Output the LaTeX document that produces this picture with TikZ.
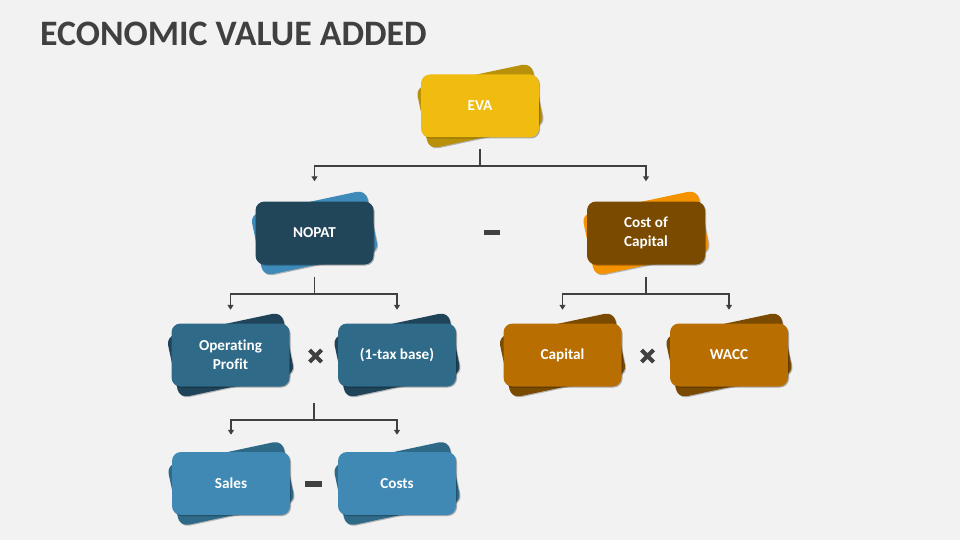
\documentclass[tikz,border=0pt]{standalone}
\usepackage{fontspec}
\setmainfont{Carlito}[Ligatures=NoCommon]
\usetikzlibrary{arrows.meta,shadows,calc}
\definecolor{bg}{HTML}{F2F2F2}
\definecolor{ink}{HTML}{404040}
\definecolor{evaF}{HTML}{F0BC10}
\definecolor{evaB}{HTML}{B8900A}
\definecolor{nopF}{HTML}{214559}
\definecolor{nopB}{HTML}{3E8AB8}
\definecolor{cocF}{HTML}{7A4A00}
\definecolor{cocB}{HTML}{F59200}
\definecolor{opF}{HTML}{2F6A88}
\definecolor{opB}{HTML}{1F4459}
\definecolor{capF}{HTML}{B86E00}
\definecolor{capB}{HTML}{7A4A00}
\definecolor{salF}{HTML}{3F89B4}
\definecolor{salB}{HTML}{2E6A88}
\tikzset{
  cardfront/.style={rectangle, rounded corners=9pt, minimum width=118pt, minimum height=63pt,
    inner sep=0pt, text=white, align=center,
    font=\bfseries\fontsize{15.2}{19}\selectfont,
    drop shadow={shadow xshift=1pt, shadow yshift=-1pt, opacity=0.3, fill=black}},
  cardback/.style={rectangle, rounded corners=9pt, minimum width=118pt, minimum height=63pt,
    inner sep=0pt, rotate=12,
    drop shadow={shadow xshift=1pt, shadow yshift=-1pt, opacity=0.25, fill=black}},
  conn/.style={draw=ink, line width=1.9pt},
  arr/.style={conn, -{Triangle[width=6pt,length=5pt]}},
  minusbar/.style={rectangle, fill=ink, minimum width=16pt, minimum height=5.5pt, inner sep=0pt},
  xmark/.style={draw=ink, line width=4.2pt},
}
\begin{document}
\begin{tikzpicture}[x=1pt,y=-1pt]
\fill[bg] (0,0) rectangle (960,540);
\useasboundingbox (0,0) rectangle (960,540);

\node[anchor=base west, text=ink, font=\bfseries\fontsize{35.8}{40}\selectfont, inner sep=0pt] (title) at (40,45.5) {ECONOMIC VALUE ADDED};

% cards
\node[cardback, fill=evaB] (evab) at (480,106) {};
\node[cardfront, fill=evaF] (eva) at (480,106) {EVA};

\node[cardback, fill=nopB] (nopatb) at (314.5,233) {};
\node[cardfront, fill=nopF] (nopat) at (314.5,233) {NOPAT};

\node[cardback, fill=cocB] (cocb) at (646,233) {};
\node[cardfront, fill=cocF] (coc) at (646,233) {Cost of\\Capital};

\node[cardback, fill=opB] (opb) at (230.5,355) {};
\node[cardfront, fill=opF] (op) at (230.5,355) {Operating\\Profit};

\node[cardback, fill=opB] (taxb) at (397,355) {};
\node[cardfront, fill=opF] (tax) at (397,355) {(1-tax base)};

\node[cardback, fill=capB] (capb) at (562.5,355) {};
\node[cardfront, fill=capF] (cap) at (562.5,355) {Capital};

\node[cardback, fill=capB] (waccb) at (729,355) {};
\node[cardfront, fill=capF] (wacc) at (729,355) {WACC};

\node[cardback, fill=salB] (salesb) at (231,483.5) {};
\node[cardfront, fill=salF] (sales) at (231,483.5) {Sales};

\node[cardback, fill=salB] (costsb) at (397,483.5) {};
\node[cardfront, fill=salF] (costs) at (397,483.5) {Costs};

% operators
\node[minusbar] (m1) at (492,232.5) {};
\node[minusbar, minimum width=17pt, minimum height=6pt] (m2) at (313.5,483.5) {};
\draw[xmark] (309.5,350) -- (321.5,362) (321.5,350) -- (309.5,362);
\draw[xmark] (641.5,350) -- (653.5,362) (653.5,350) -- (641.5,362);

% connectors
\draw[conn] ([yshift=-11pt]eva.south) -- ++(0,17) coordinate (evabus);
\draw[arr] (evabus) -| ([yshift=20pt]nopat.north);
\draw[arr] (evabus) -| ([yshift=20pt]coc.north);

\draw[conn] ([yshift=-12pt]nopat.south) -- ++(0,17) coordinate (nopbus);
\draw[arr] (nopbus) -| ([yshift=13.5pt]op.north);
\draw[arr] (nopbus) -| ([yshift=13.5pt]tax.north);

\draw[conn] ([yshift=-12pt]coc.south) -- ++(0,17) coordinate (cocbus);
\draw[arr] (cocbus) -| ([yshift=13.5pt]cap.north);
\draw[arr] (cocbus) -| ([yshift=13.5pt]wacc.north);

\draw[conn] ($(op.south)!.5!(tax.south)+(0,16.5)$) -- ++(0,17) coordinate (opbus);
\draw[arr] (opbus) -| ([yshift=17pt]sales.north);
\draw[arr] (opbus) -| ([yshift=17pt]costs.north);
\end{tikzpicture}
\end{document}
